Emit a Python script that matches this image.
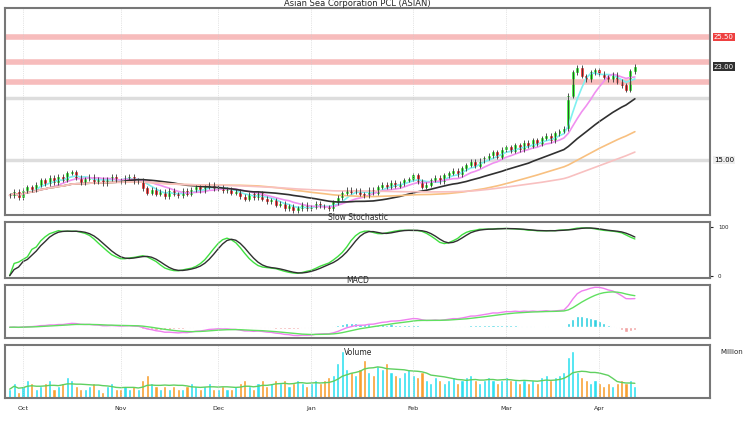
import numpy as np, pandas as pd, matplotlib
matplotlib.use("Agg")
import matplotlib.pyplot as plt, seaborn as sns

sns.set_style("white")
plt.rcParams['font.family'] = ['DejaVu Sans']

closes = [12.0,12.3,11.8,12.4,12.7,12.5,12.9,13.3,13.0,13.5,13.1,13.6,13.3,13.9,14.0,13.5,13.1,13.4,13.6,13.2,13.4,13.0,13.4,13.6,13.3,13.2,13.5,13.6,13.2,13.3,12.6,
 12.2,12.5,12.1,12.3,11.9,12.4,12.1,12.0,12.4,12.1,12.5,12.7,12.4,12.7,12.9,12.6,12.7,12.4,12.5,12.2,
 12.3,11.9,11.7,12.1,11.8,12.2,11.7,11.5,11.6,11.2,11.3,10.9,11.1,10.7,10.9,11.2,10.9,11.0,11.3,11.1,
 11.0,10.9,11.4,11.8,12.2,12.5,12.3,12.4,12.1,12.0,12.5,12.2,12.7,12.9,12.7,13.1,12.8,13.0,13.3,13.4,13.7,13.2,12.7,
 12.9,13.3,13.5,13.2,13.7,13.9,14.1,13.8,14.3,14.6,14.9,14.5,15.0,15.2,15.4,15.7,15.3,15.9,16.1,15.8,
 16.3,15.9,16.5,16.2,16.7,16.4,16.9,17.1,16.7,17.3,17.5,17.7,20.5,22.5,22.9,22.2,21.9,22.5,22.7,22.4,22.1,21.9,22.3,21.7,21.4,
 21.0,22.6,23.0]
volumes = [3,5,2,4,6,5,3,4,5,6,3,4,5,7,6,4,3,3,4,5,3,2,4,5,3,3,4,3,4,3,6,
 8,5,4,3,4,3,4,3,3,4,5,4,3,4,5,3,3,4,3,3,
 4,5,6,4,3,5,6,4,5,6,5,6,4,5,6,5,4,5,6,5,
 6,7,8,12,16,10,9,8,10,13,9,8,11,10,12,9,8,7,9,10,8,7,9,
 6,5,7,6,5,6,7,5,6,7,8,6,5,6,7,6,5,6,7,6,
 6,5,6,5,6,5,7,8,6,7,8,9,14,16,9,7,6,5,6,5,4,5,4,5,6,
 5,6,4]
month_labels = ["Oct","Nov","Dec","Jan","Feb","Mar","Apr"]
levels_pink = [25.5, 23.4, 21.7]
levels_gray = [20.3, 15.0]

n = len(closes)
dates = pd.bdate_range("2023-09-27", periods=n)
c = pd.Series(closes)
o = c.shift(1).fillna(c.iloc[0])
hi = np.maximum(o, c) + 0.2
lo = np.minimum(o, c) - 0.2
x = np.arange(n)

fig = plt.figure(figsize=(7.5, 4.22), dpi=100)
W0, W1 = 0.007, 0.947
axm = fig.add_axes([W0, 0.49, W1-W0, 0.491])
axs = fig.add_axes([W0, 0.341, W1-W0, 0.133], sharex=axm)
axd = fig.add_axes([W0, 0.199, W1-W0, 0.126], sharex=axm)
axv = fig.add_axes([W0, 0.057, W1-W0, 0.125], sharex=axm)

for lv in levels_pink:
    axm.axhline(lv, color="#f4a0a0", lw=4, alpha=0.7)
for lv in levels_gray:
    axm.axhline(lv, color="#dddddd", lw=2.5)
ma_specs = [(5,"#7ff0f0"),(10,"#f090f0"),(25,"#303030"),(50,"#f8c080"),(75,"#f8c0c0")]
for w, col in ma_specs:
    sns.lineplot(x=x, y=c.rolling(w, min_periods=1).mean().values, ax=axm, color=col, lw=1.2)
up = c >= o
axm.vlines(x, lo, hi, color="#333333", lw=0.6)
axm.bar(x[up], (c-o)[up].abs()+0.15, bottom=o[up]-0.07, color="#22ee22", width=0.9)
axm.bar(x[~up], (c-o)[~up].abs()+0.15, bottom=c[~up]-0.07, color="#ee2020", width=0.9)
axm.set_ylim(10.3, 28.0)
axm.set_title("Asian Sea Corporation PCL (ASIAN)", fontsize=6, pad=-8)

# stochastic
low14 = c.rolling(14, min_periods=1).min(); high14 = c.rolling(14, min_periods=1).max()
k = ((c-low14)/(high14-low14+1e-9)*100).rolling(5, min_periods=1).mean()
ks = k.rolling(5, min_periods=1).mean(); ds = ks.rolling(3, min_periods=1).mean()
sns.lineplot(x=x, y=ks.values, ax=axs, color="#40e040", lw=1)
sns.lineplot(x=x, y=ds.values, ax=axs, color="#303030", lw=1)
axs.set_ylim(-5, 110)
axs.set_title("Slow Stochastic", fontsize=5.5, pad=-7)

# MACD
macd = c.ewm(span=12).mean() - c.ewm(span=26).mean()
sig = macd.ewm(span=9).mean()
hist = macd - sig
axd.bar(x, hist, color=np.where(hist >= 0, "#30d0e0", "#f0a0a0"), width=0.7)
sns.lineplot(x=x, y=macd.values, ax=axd, color="#f080f0", lw=1)
sns.lineplot(x=x, y=sig.values, ax=axd, color="#60e060", lw=1)
axd.set_title("MACD", fontsize=5.5, pad=-7)

# volume
vs = pd.Series(volumes)
axv.bar(x, volumes, color=np.where(up, "#30e0f0", "#f8a030"), width=0.7)
sns.lineplot(x=x, y=vs.rolling(10, min_periods=1).mean().values, ax=axv, color="#60d060", lw=1)
axv.set_title("Volume", fontsize=5.5, pad=-7)
axv.set_ylim(0, 18)

ticks = [i for i in range(1, n) if dates[i].month != dates[i-1].month]
for ax in (axm, axs, axd, axv):
    ax.set_xlim(-1, n + 16)
    ax.yaxis.tick_right()
    ax.tick_params(labelsize=4, length=2)
    for sp in ax.spines.values():
        sp.set_color("#777777"); sp.set_linewidth(1.5)
    for t in ticks:
        ax.axvline(t, color="#cccccc", lw=0.5, ls=":")
    ax.set_ylabel("")
for ax in (axm, axs, axd):
    plt.setp(ax.get_xticklabels(), visible=False)
axv.set_xticks(ticks)
axv.set_xticklabels(month_labels[:len(ticks)], fontsize=4.5)

for val, col, fc in [(closes[-1], "white", "#303030"), (levels_pink[0], "white", "#ee4040"), (15.0, "black", "#eeeeee")]:
    axm.text(1.005, (val-10.3)/(28.0-10.3), f"{val:.2f}", transform=axm.transAxes, fontsize=5,
             color=col, va="center", bbox=dict(fc=fc, ec="none", pad=0.8))
axm.set_yticks([])
axs.set_yticks([0, 100]); axd.set_yticks([]); axv.set_yticks([])
fig.text(0.96, 0.16, "Million", fontsize=5)
fig.savefig("out.png", dpi=100)
